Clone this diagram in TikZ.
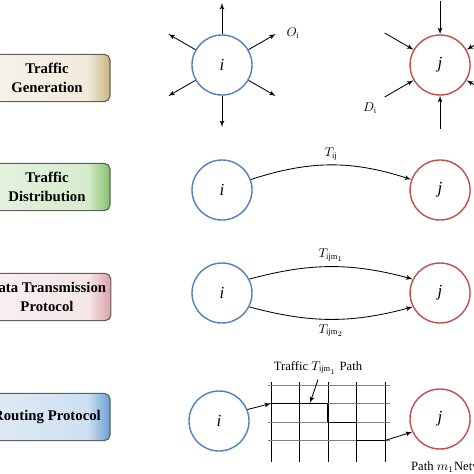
\documentclass[tikz,border=0pt]{standalone}
\usepackage{fontspec}
\setmainfont{Liberation Serif}
\usetikzlibrary{positioning,arrows,calc}
\definecolor{nodeblue}{RGB}{79,129,189}
\definecolor{nodered}{RGB}{192,80,77}
\definecolor{gencol}{RGB}{190,160,95}
\definecolor{distcol}{RGB}{110,185,80}
\definecolor{transcol}{RGB}{210,130,140}
\definecolor{routcol}{RGB}{80,145,205}
% pale face, darker band at the right edge
\pgfdeclarehorizontalshading{genshade}{100bp}{color(0bp)=(gencol!12); color(25bp)=(gencol!12); color(66bp)=(gencol!22); color(75bp)=(gencol!80); color(100bp)=(gencol!80)}
\pgfdeclarehorizontalshading{distshade}{100bp}{color(0bp)=(distcol!18); color(25bp)=(distcol!18); color(66bp)=(distcol!28); color(75bp)=(distcol!85); color(100bp)=(distcol!85)}
\pgfdeclarehorizontalshading{transshade}{100bp}{color(0bp)=(transcol!12); color(25bp)=(transcol!12); color(66bp)=(transcol!20); color(75bp)=(transcol!75); color(100bp)=(transcol!75)}
\pgfdeclarehorizontalshading{routshade}{100bp}{color(0bp)=(routcol!18); color(25bp)=(routcol!18); color(66bp)=(routcol!28); color(75bp)=(routcol!85); color(100bp)=(routcol!85)}
\tikzset{
    x=0.025cm,
    y=-0.025cm,
    stage/.style = {
        draw=gray!75!black,
        shape=rectangle,
        rounded corners=4pt,
        minimum width=3.15cm,
        minimum height=1.18cm,
        line width=0.8pt,
        align=center,
        font=\fontsize{10.5}{13}\selectfont\bfseries
    },
    src/.style = {
        draw=nodeblue,
        shape=circle,
        minimum size=1.5cm,
        line width=1pt,
        font=\fontsize{12}{14}\selectfont\itshape
    },
    dst/.style = {
        src,
        draw=nodered
    },
    lbl/.style = {
        font=\fontsize{9}{11}\selectfont
    },
    >=latex',
}

\begin{document}
\begin{tikzpicture}[on grid, semithick]
    \path[use as bounding box, clip] (0,0) rectangle (474,474);

    % stages on the left
    \node[stage, shading=genshade] (gen) at (47,78) {Traffic\\Generation};
    \node[stage, shading=distshade] (dist) at (47,187) {Traffic\\Distribution};
    \node[stage, shading=transshade] (trans) at (47,297) {Data Transmission\\Protocol};
    \node[stage, shading=routshade] (rout) at (47,417) {Routing Protocol};

    % traffic generation
    \node[src] (gi) at (222,65) {i};
    \node[dst, right=5.45cm of gi] (gj) {j};
    \foreach \a in {90,30,150,210,330,270} {
        \coordinate (go\a) at ($(gi)+(\a:1.55cm)$);
        \path[draw, ->] (gi.\a) -- (go\a);
        \coordinate (gd\a) at ($(gj)+(\a:1.6cm)$);
        \path[draw, ->] (gd\a) -- (gj.\a);
    }
    \node[lbl] (olbl) at (293,33) {$O_{\mathrm{i}}$};
    \node[lbl] (dlbl) at (370,108) {$D_{\mathrm{i}}$};

    % traffic distribution
    \node[src] (di) at (222,190) {i};
    \node[dst, right=5.45cm of di] (dj) {j};
    \path[draw, ->] (di.20) to[bend left=18] node[lbl, above] {$T_{\mathrm{ij}}$} (dj.160);

    % data transmission
    \node[src] (ti) at (222,293) {i};
    \node[dst, right=5.45cm of ti] (tj) {j};
    \path[draw, ->] (ti.27) to[bend left=15] node[lbl, above] {$T_{\mathrm{ijm}_1}$} (tj.153);
    \path[draw, ->] (ti.-27) to[bend right=15] node[lbl, below] {$T_{\mathrm{ijm}_2}$} (tj.-153);

    % routing
    \node[src] (ri) at (219,421) {i};
    \node[dst] (rj) at (440,419) {j};
    \foreach \k in {0,...,4}
        \draw[line width=0.7pt] (271+28.5*\k,382) -- (271+28.5*\k,462);
    \foreach \h in {385,403.5,422,440.5}
        \draw[gray, line width=0.6pt] (268,\h) -- (390,\h);
    \coordinate (pin) at (271,403.5);
    \coordinate (pa) at (328,403.5);
    \coordinate (pb) at (328,422);
    \coordinate (pc) at (356.5,422);
    \coordinate (pd) at (356.5,440.5);
    \coordinate (pout) at (385,440.5);
    \draw (pin) -- (pa);
    \draw[line width=1.4pt] (pa) -- (pb);
    \draw (pb) -- (pc);
    \draw[line width=1.4pt] (pc) -- (pd);
    \draw (pd) -- (pout);
    \path[draw, ->] (ri.22) -- (pin);
    \path[draw, ->] (pout) -- (rj.205);
    \node[lbl] (plbl) at (318,368) {Traffic $T_{\mathrm{ijm}_1}$ Path};
    \coordinate (pmark) at (310,403);
    \path[draw, ->] (plbl.south) -- (pmark);
    \node[lbl, anchor=west] (netlbl) at (406,467) {Path $m_1$Network};
\end{tikzpicture}
\end{document}
